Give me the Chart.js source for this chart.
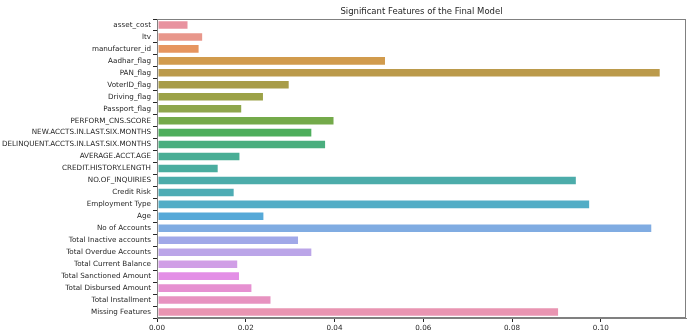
<!DOCTYPE html>
<html>
<head>
<meta charset="utf-8">
<script src="https://cdn.jsdelivr.net/npm/chart.js@4/dist/chart.umd.min.js"></script>
<style>
    html, body { margin: 0; padding: 0; background: #ffffff; }
    #wrap { width: 693px; height: 336px; position: relative; }
</style>
</head>
<body>
<div id="wrap"><canvas id="featureChart"></canvas></div>
<script>
// Feature names and importance values
const features = [
    'asset_cost', 'ltv', 'manufacturer_id', 'Aadhar_flag', 'PAN_flag',
    'VoterID_flag', 'Driving_flag', 'Passport_flag', 'PERFORM_CNS.SCORE',
    'NEW.ACCTS.IN.LAST.SIX.MONTHS', 'DELINQUENT.ACCTS.IN.LAST.SIX.MONTHS',
    'AVERAGE.ACCT.AGE', 'CREDIT.HISTORY.LENGTH', 'NO.OF_INQUIRIES',
    'Credit Risk', 'Employment Type', 'Age', 'No of Accounts',
    'Total Inactive accounts', 'Total Overdue Accounts', 'Total Current Balance',
    'Total Sanctioned Amount', 'Total Disbursed Amount', 'Total Installment',
    'Missing Features'
];
const importance = [
    0.0071, 0.0104, 0.0096, 0.0516, 0.1135,
    0.0299, 0.0241, 0.0192, 0.0400,
    0.0350, 0.0381,
    0.0188, 0.0139, 0.0946,
    0.0175, 0.0976, 0.0242, 0.1116,
    0.0320, 0.0350, 0.0183,
    0.0187, 0.0215, 0.0258,
    0.0906
];
const xTicks = [0.00, 0.02, 0.04, 0.06, 0.08, 0.10];
const xMax = 0.1192;

const barColors = [
    '#e8929f', '#e8978b', '#e6955f', '#d19b4d', '#bb9a4b',
    '#a89c48', '#9ca248', '#8ea64c', '#74aa4a', '#4eae5c',
    '#4aae7e', '#4aae95', '#4aad9f', '#4cacaa', '#4eacb4',
    '#52adc6', '#56a9d8', '#80ace2', '#a1a8e8', '#bba5e8',
    '#d09ee6', '#e38fe6', '#e690d1', '#e793c0', '#e995b2'
];

const textColor = '#262626';
const frameColor = '#808080';

// frame around plot + title centred over plot area
const frameAndTitle = {
    id: 'frameAndTitle',
    afterDraw(chart) {
        const { ctx, chartArea: a } = chart;
        ctx.save();
        ctx.strokeStyle = frameColor;
        ctx.lineWidth = 1;
        ctx.strokeRect(Math.round(a.left) + 0.5, Math.round(a.top) + 0.5,
            Math.round(a.right - a.left) - 1, Math.round(a.bottom - a.top) - 1);
        ctx.fillStyle = textColor;
        ctx.font = '8.5px "DejaVu Sans"';
        ctx.textAlign = 'center';
        ctx.textBaseline = 'alphabetic';
        ctx.fillText('Significant Features of the Final Model', (a.left + a.right) / 2, a.top - 5);
        ctx.restore();
    }
};

new Chart(document.getElementById('featureChart'), {
    type: 'bar',
    data: {
        labels: features,
        datasets: [{
            data: importance,
            backgroundColor: barColors,
            borderColor: 'rgba(255,255,255,0.45)',
            borderWidth: 1,
            borderSkipped: false,
            barPercentage: 0.8,
            categoryPercentage: 1.0
        }]
    },
    options: {
        indexAxis: 'y',
        responsive: true,
        maintainAspectRatio: false,
        animation: false,
        layout: { padding: { top: 19, right: 7, left: 0, bottom: 0 } },
        plugins: {
            legend: { display: false },
            tooltip: { enabled: false }
        },
        scales: {
            x: {
                min: 0,
                max: xMax,
                afterBuildTicks: (scale) => {
                    scale.ticks = xTicks.map(v => ({ value: v }));
                },
                afterFit: (scale) => { scale.height = 18; },
                grid: {
                    drawOnChartArea: false,
                    drawTicks: true,
                    tickLength: 4,
                    color: textColor
                },
                border: { display: true, color: frameColor },
                ticks: {
                    color: textColor,
                    font: { family: 'DejaVu Sans', size: 7.2 },
                    padding: 2,
                    callback: (v) => Number(v).toFixed(2)
                }
            },
            y: {
                afterFit: (scale) => { scale.width = 157; },
                grid: {
                    drawOnChartArea: false,
                    drawTicks: true,
                    tickLength: 4,
                    color: textColor
                },
                border: { display: true, color: frameColor },
                ticks: {
                    color: textColor,
                    font: { family: 'DejaVu Sans', size: 7.2 },
                    padding: 2,
                    autoSkip: false
                }
            }
        }
    },
    plugins: [frameAndTitle]
});
</script>
</body>
</html>
